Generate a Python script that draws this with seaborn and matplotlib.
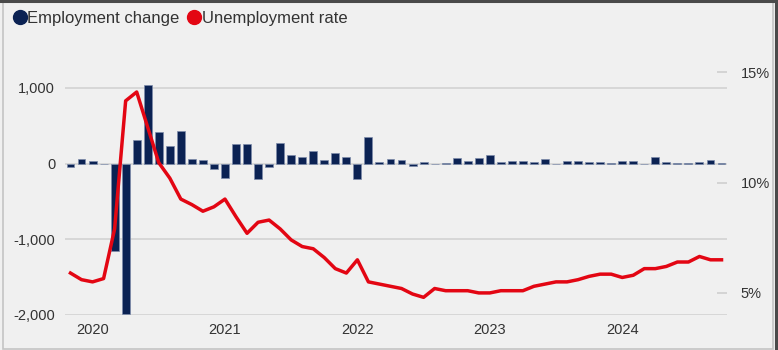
import matplotlib.pyplot as plt
import numpy as np
import pandas as pd
import seaborn as sns
from matplotlib.lines import Line2D
from matplotlib.patches import Rectangle

# Monthly data, Nov 2019 - Oct 2024
months = pd.date_range('2019-11-01', '2024-10-01', freq='MS').strftime('%Y-%m').tolist()

# Employment change (thousands)
employment_change = [
    -45, 65, 30, -10, -1150, -1990, 310, 1040, 420, 230, 435, 65, 45, -65,
    -190, 260, 262, -200, -45, 270, 120, 90, 160, 50, 145, 90,
    -210, 345, 20, 55, 45, -30, 25, -8, 5, 75, 30, 70,
    110, 15, 35, 35, 15, 55, -5, 40, 40, 15, 15, 12,
    35, 35, -3, 90, 20, 5, 5, 25, 45, 10,
]

# Unemployment rate (%)
unemployment_rate = [
    5.9, 5.6, 5.5, 5.65, 7.9, 13.7, 14.1, 12.5, 10.9, 10.2, 9.25, 9.0, 8.7, 8.9,
    9.25, 8.45, 7.7, 8.2, 8.3, 7.9, 7.4, 7.1, 7.0, 6.6, 6.1, 5.9,
    6.5, 5.5, 5.4, 5.3, 5.2, 4.95, 4.8, 5.2, 5.1, 5.1, 5.1, 5.0,
    5.0, 5.1, 5.1, 5.1, 5.3, 5.4, 5.5, 5.5, 5.6, 5.75, 5.85, 5.85,
    5.7, 5.8, 6.1, 6.1, 6.2, 6.4, 6.4, 6.65, 6.5, 6.5,
]

year_labels = ['2020', '2021', '2022', '2023', '2024']
left_ticks = [-2000, -1000, 0, 1000]
right_ticks = [5, 10, 15]

navy = '#0b2253'
red = '#e30613'
bg = '#f0f0f0'
text_color = '#333333'

plt.rcParams['font.family'] = ['Liberation Sans', 'DejaVu Sans']

fig = plt.figure(figsize=(7.78, 3.5), dpi=100, facecolor=bg)
ax = fig.add_axes([0.0835, 0.1, 0.851, 0.757])
ax.set_facecolor(bg)

# Bars: employment change
sns.barplot(x=months, y=employment_change, ax=ax, color=navy, saturation=1,
            width=0.72, edgecolor='#7d8cab', linewidth=0.5, zorder=2)

# Line: unemployment rate on right axis
ax2 = ax.twinx()
sns.lineplot(x=np.arange(len(months)), y=unemployment_rate, ax=ax2,
             color=red, linewidth=2.5, zorder=3)

for a in (ax, ax2):
    a.set_xlim(-0.5, len(months) - 0.5)
    for s in a.spines.values():
        s.set_visible(False)
    a.set_xlabel('')
    a.set_ylabel('')

ax.set_ylim(-2000, 1500)
ax.set_yticks(left_ticks)
ax.set_yticklabels([f'{v:,}' for v in left_ticks])
ax.grid(axis='y', color='#d2d2d2', linewidth=1.2, zorder=0)
ax.set_axisbelow(True)
ax.tick_params(axis='y', length=0, pad=7, labelsize=10.5, labelcolor=text_color)

jan_pos = [months.index(y + '-01') for y in year_labels]
ax.set_xticks(jan_pos)
ax.set_xticklabels(year_labels)
ax.tick_params(axis='x', length=0, pad=6, labelsize=10.5, labelcolor=text_color)

ax2.set_ylim(4, 16)
ax2.set_yticks(right_ticks)
ax2.set_yticklabels([f'{v}%' for v in right_ticks])
ax2.tick_params(axis='y', direction='in', length=7, width=1.2, color='#cfcfcf',
                pad=10, labelsize=10.5, labelcolor=text_color)
ax2.grid(False)

# Legend
handles = [
    Line2D([], [], marker='o', linestyle='none', markersize=10, color=navy),
    Line2D([], [], marker='o', linestyle='none', markersize=10, color=red),
]
fig.legend(handles, ['Employment change', 'Unemployment rate'], loc='center left',
           bbox_to_anchor=(0.008, 0.947), ncol=2, frameon=False, fontsize=12,
           handlelength=0.8, handletextpad=0.05, columnspacing=0.5,
           labelcolor=text_color, borderaxespad=0)

# Window-like frame
fig.add_artist(Rectangle((0.004, 0.004), 0.99, 0.99, transform=fig.transFigure,
                         fill=False, edgecolor='#c4c4c4', linewidth=1.2))
fig.add_artist(Line2D([0, 1], [0.997, 0.997], transform=fig.transFigure,
                      color='#4a4a4a', linewidth=2.2))
fig.add_artist(Line2D([0.998, 0.998], [0, 1], transform=fig.transFigure,
                      color='#4a4a4a', linewidth=2.2))

fig.savefig('out.png', dpi=100, facecolor=bg)
